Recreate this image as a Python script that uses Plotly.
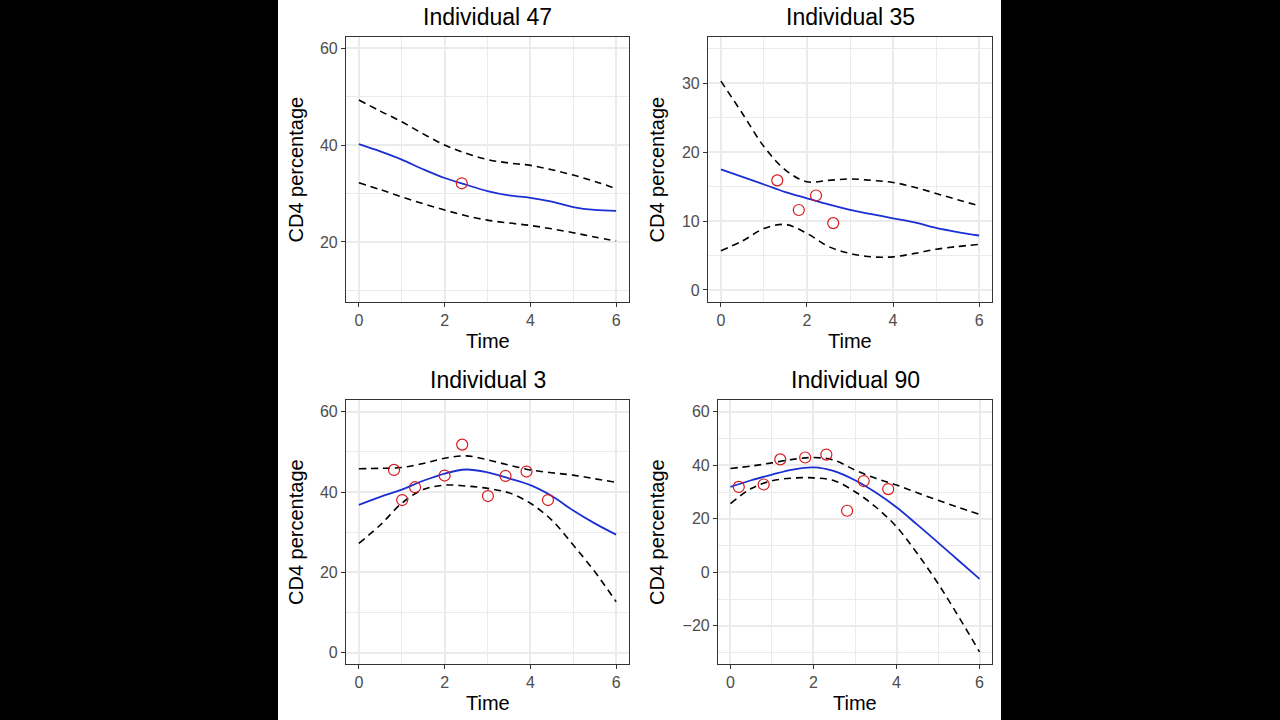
import plotly.graph_objects as go

# grid of times for the fitted curves
t_grid = [0, 0.5, 1, 1.5, 2, 2.5, 3, 3.5, 4, 4.5, 5, 5.5, 6]

# Individual 47
fit_47 = [40.2, 38.7, 37.0, 35.0, 33.2, 31.8, 30.5, 29.6, 29.1, 28.3, 27.2, 26.6, 26.4]
up_47 = [49.3, 47.0, 44.8, 42.3, 40.0, 38.3, 37.0, 36.3, 35.8, 34.9, 33.8, 32.5, 31.0]
lo_47 = [32.2, 30.8, 29.3, 27.9, 26.6, 25.4, 24.5, 23.9, 23.4, 22.7, 21.9, 21.0, 20.2]
obs_t_47 = [2.4]
obs_y_47 = [32.1]

# Individual 35
fit_35 = [17.5, 16.4, 15.3, 14.2, 13.3, 12.4, 11.6, 11.0, 10.4, 9.8, 9.0, 8.4, 7.9]
up_35 = [30.3, 25.6, 20.8, 17.4, 15.7, 15.9, 16.1, 15.9, 15.6, 14.9, 14.0, 13.1, 12.2]
lo_35 = [5.7, 7.1, 8.9, 9.5, 8.2, 6.3, 5.3, 4.8, 4.8, 5.3, 5.9, 6.3, 6.6]
obs_t_35 = [1.31, 1.81, 2.21, 2.61]
obs_y_35 = [15.9, 11.6, 13.7, 9.7]

# Individual 3
fit_3 = [36.8, 38.8, 40.6, 42.8, 44.6, 45.6, 44.9, 43.4, 41.7, 39.0, 35.4, 32.2, 29.4]
up_3 = [45.8, 45.9, 46.1, 47.1, 48.4, 49.0, 48.0, 46.7, 45.5, 44.8, 44.2, 43.3, 42.4]
lo_3 = [27.2, 31.8, 37.2, 40.6, 41.7, 41.5, 40.9, 39.8, 37.2, 33.0, 26.8, 20.2, 12.7]
obs_t_3 = [0.82, 1.01, 1.31, 2.0, 2.41, 3.01, 3.42, 3.91, 4.41]
obs_y_3 = [45.5, 38.0, 41.2, 44.1, 51.8, 39.0, 44.0, 45.1, 38.0]

# Individual 90
fit_90 = [31.9, 34.4, 36.5, 38.4, 39.2, 37.8, 34.4, 29.8, 24.3, 17.8, 11.1, 4.3, -2.5]
up_90 = [38.8, 39.7, 40.9, 42.2, 42.9, 41.9, 38.2, 35.1, 32.6, 29.7, 26.9, 24.2, 21.6]
lo_90 = [25.7, 31.3, 34.2, 35.2, 35.3, 34.2, 30.1, 24.4, 17.0, 7.0, -4.2, -16.7, -29.8]
obs_t_90 = [0.2, 0.8, 1.2, 1.8, 2.31, 2.81, 3.21, 3.8]
obs_y_90 = [31.9, 32.8, 42.2, 42.9, 44.0, 23.0, 34.1, 31.1]

panels = [
    ("Individual 47", fit_47, up_47, lo_47, obs_t_47, obs_y_47, [7.6, 62.3], 20, 10),
    ("Individual 35", fit_35, up_35, lo_35, obs_t_35, obs_y_35, [-1.75, 36.7], 10, 5),
    ("Individual 3", fit_3, up_3, lo_3, obs_t_3, obs_y_3, [-2.8, 62.9], 20, 10),
    ("Individual 90", fit_90, up_90, lo_90, obs_t_90, obs_y_90, [-34.3, 64.4], 20, 10),
]

# pixel boxes of each panel (left, right, top, bottom)
boxes = [(346, 629, 37, 302), (708, 992, 37, 302), (346, 629, 400, 664), (718, 992, 400, 664)]

W, H = 1280, 720
fig = go.Figure()
annotations = []
font = "Liberation Sans, Arial, Helvetica, sans-serif"

for i, (title, fit, up, lo, ot, oy, yr, ydt, ymin) in enumerate(panels):
    n = "" if i == 0 else str(i + 1)
    xa, ya = "x" + n, "y" + n
    for curve in (up, lo):
        fig.add_trace(go.Scatter(x=t_grid, y=curve, mode="lines", line_shape="spline",
                                 line=dict(color="black", width=1.6, dash="7px,5px"),
                                 xaxis=xa, yaxis=ya, showlegend=False))
    fig.add_trace(go.Scatter(x=t_grid, y=fit, mode="lines", line_shape="spline",
                             line=dict(color="#1a2fd4", width=1.8),
                             xaxis=xa, yaxis=ya, showlegend=False))
    fig.add_trace(go.Scatter(x=ot, y=oy, mode="markers",
                             marker=dict(symbol="circle-open", size=11, color="#d7191c",
                                         line=dict(width=1.2)),
                             xaxis=xa, yaxis=ya, showlegend=False))

    l, r, t, b = boxes[i]
    common = dict(showline=True, linecolor="#333333", linewidth=1.2, mirror=True,
                  ticks="outside", ticklen=4, tickcolor="#333333", tickwidth=1.1,
                  tickfont=dict(size=16, color="#4d4d4d", family=font),
                  showgrid=True, gridcolor="#ebebeb", gridwidth=1.6, zeroline=False)
    fig.layout["xaxis" + n] = dict(domain=[l / W, r / W], anchor=ya, range=[-0.3, 6.3],
                                   dtick=2, tick0=0,
                                   minor=dict(dtick=1, showgrid=True, gridcolor="#ebebeb",
                                              gridwidth=0.9, ticks=""),
                                   **common)
    fig.layout["yaxis" + n] = dict(domain=[1 - b / H, 1 - t / H], anchor=xa, range=yr,
                                   dtick=ydt, tick0=0,
                                   minor=dict(dtick=ymin, showgrid=True, gridcolor="#ebebeb",
                                              gridwidth=0.9, ticks=""),
                                   **common)

    cx = (l + r) / 2 / W
    annotations.append(dict(text=title, x=cx, y=1 - (t - 20) / H, xref="paper", yref="paper",
                            xanchor="center", yanchor="middle", showarrow=False,
                            font=dict(size=23, color="black", family=font)))
    annotations.append(dict(text="Time", x=cx, y=1 - (b + 39) / H, xref="paper", yref="paper",
                            xanchor="center", yanchor="middle", showarrow=False,
                            font=dict(size=20, color="black", family=font)))
    ylab_x = 296 if i % 2 == 0 else 657
    annotations.append(dict(text="CD4 percentage", x=ylab_x / W, y=1 - (t + b) / 2 / H,
                            xref="paper", yref="paper", textangle=-90, showarrow=False,
                            xanchor="center", yanchor="middle",
                            font=dict(size=20, color="black", family=font)))

fig.update_layout(
    width=W, height=H,
    margin=dict(l=0, r=0, t=0, b=0),
    paper_bgcolor="black",
    plot_bgcolor="white",
    annotations=annotations,
    shapes=[dict(type="rect", xref="paper", yref="paper", x0=278 / W, x1=1001 / W,
                 y0=0, y1=1, fillcolor="white", line=dict(width=0), layer="below")],
)

fig.write_html("out.html", config={"displayModeBar": False},
               post_script="document.body.style.margin='0';")
